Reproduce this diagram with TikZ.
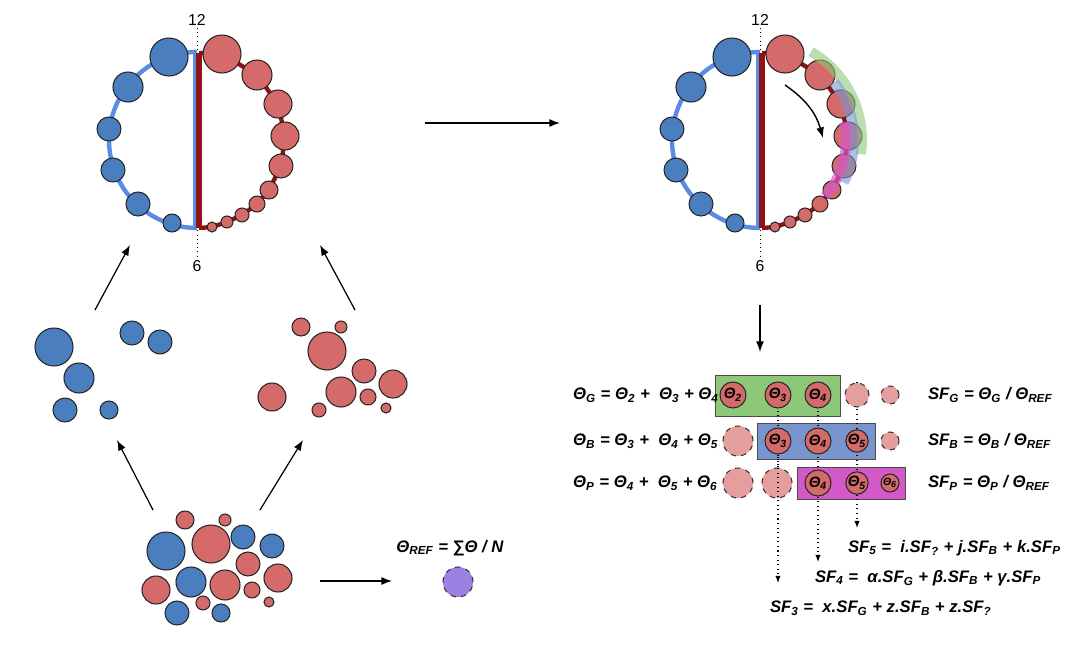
\documentclass[tikz,border=0pt]{standalone}
\usepackage{fontspec}
\setmainfont{Liberation Sans}
\usetikzlibrary{arrows.meta}
\definecolor{cblue}{RGB}{74,126,190}
\definecolor{cred}{RGB}{212,106,106}
\definecolor{cpink}{RGB}{228,158,158}
\definecolor{cline}{RGB}{90,140,230}
\definecolor{cdark}{RGB}{140,20,20}
\definecolor{cgreen}{RGB}{140,200,120}
\definecolor{cband}{RGB}{120,150,205}
\definecolor{cmag}{RGB}{210,90,200}
\newcommand{\Tsub}[1]{\textit{Θ}\textsubscript{\textit{#1}}}
\newcommand{\SFsub}[1]{\textit{SF}\textsubscript{\textit{#1}}}
\tikzset{
  bl/.style={fill=cblue, draw=black!85, line width=0.6pt},
  rd/.style={fill=cred, draw=black!85, line width=0.6pt},
  ghost/.style={fill=cpink, draw=black!80, dashed, line width=0.6pt},
  arr/.style={-{Latex[length=6pt]}, line width=0.7pt},
  dotarr/.style={-{Latex[length=4pt]}, dotted, line width=0.6pt},
  eq/.style={font=\fontsize{9.5}{11}\selectfont\bfseries\itshape, inner sep=1pt},
  cell/.style={circle, draw=black!85, fill=cred, line width=0.6pt, inner sep=0pt,
    font=\fontsize{8.5}{9}\selectfont\bfseries\itshape},
}
% one ring: blue and red chains closed by the 12-6 axis
\newcommand{\ringbody}{
  \draw[dotted] (197,28) -- (197,258);
  \node[font=\small] (top) at (197,20) {12};
  \node[font=\small] (bot) at (197,266) {6};
  \draw[cline, line width=2.5pt] (197,52) arc[start angle=90, end angle=270, radius=1.76cm];
  \draw[cline, line width=2pt] (195,52) -- (195,228);
  \draw[cdark, line width=3pt] (199,53) -- (199,228);
  \draw[cdark, line width=2.5pt] (199,53) -- (222,54) -- (257,75) -- (278,104) -- (285,136)
    -- (281,166) -- (269,190) -- (257,204) -- (242,215) -- (227,222) -- (212,227) -- (199,228);
  \foreach \x/\y/\r in {169/57/19, 128/87/15, 109/129/12, 113/170/12, 138/204/12, 172/223/9}
    \filldraw[bl] (\x,\y) circle (\r*0.02cm);
  \foreach \x/\y/\r in {222/54/19, 257/75/15, 278/104/14, 285/136/14, 281/166/12, 269/190/9,
      257/204/8, 242/215/7, 227/222/6, 212/227/5}
    \filldraw[rd] (\x,\y) circle (\r*0.02cm);
}
\begin{document}
\begin{tikzpicture}[x=0.02cm, y=-0.02cm]
\useasboundingbox (0,0) rectangle (1080,650);

% rings
\begin{scope}
  \ringbody
\end{scope}
\begin{scope}[shift={(563,0)}]
  \ringbody
  \draw[cgreen, opacity=0.6, line width=0.2cm] ([shift={(60:2.04cm)}]197,140) arc[start angle=60, end angle=-8, radius=2.04cm];
  \draw[cband, opacity=0.6, line width=0.2cm] ([shift={(38:1.88cm)}]197,140) arc[start angle=38, end angle=-27, radius=1.88cm];
  \draw[cmag, opacity=0.7, line width=0.2cm] ([shift={(12:1.72cm)}]197,140) arc[start angle=12, end angle=-41, radius=1.72cm];
  \coordinate (sw1) at (222,85);
  \coordinate (sw2) at (260,138);
  \draw[arr, line width=0.8pt] (sw1) to[bend left=20] (sw2);
\end{scope}

% separated clusters
\foreach \x/\y/\r in {54/347/19, 79/378/15, 65/410/12, 109/410/9, 132/333/12, 160/342/12}
  \filldraw[bl] (\x,\y) circle (\r*0.02cm);
\foreach \x/\y/\r in {301/327/9, 341/327/6, 327/351/19, 364/371/12, 393/384/14, 341/392/15,
    368/397/8, 272/397/14, 319/410/7, 386/408/5}
  \filldraw[rd] (\x,\y) circle (\r*0.02cm);

% mixed cluster
\foreach \x/\y/\r in {166/551/19, 243/537/12, 272/546/12, 191/582/15, 177/613/12, 221/613/9}
  \filldraw[bl] (\x,\y) circle (\r*0.02cm);
\foreach \x/\y/\r in {211/544/19, 185/520/9, 225/520/6, 248/564/12, 278/578/14, 225/585/15,
    156/590/14, 252/590/8, 203/603/7, 269/602/5}
  \filldraw[rd] (\x,\y) circle (\r*0.02cm);

% reference
\node[eq] (tref) at (450,548) {\Tsub{REF} = ∑\textit{Θ} / \textit{N}};
\filldraw[fill=violet!45!blue!50, draw=black!80, dashed, line width=0.6pt] (458,582) circle (15*0.02cm);

% flow arrows
\coordinate (m1) at (153,510); \coordinate (m2) at (117,440);
\coordinate (m3) at (260,510); \coordinate (m4) at (303,440);
\coordinate (m5) at (320,581); \coordinate (m6) at (392,581);
\coordinate (c1) at (95,310);  \coordinate (c2) at (130,245);
\coordinate (c3) at (355,310); \coordinate (c4) at (320,245);
\coordinate (h1) at (425,123); \coordinate (h2) at (560,123);
\coordinate (v1) at (760,305); \coordinate (v2) at (760,352);
\foreach \a/\b in {m1/m2, m3/m4, m5/m6, c1/c2, c3/c4, h1/h2, v1/v2}
  \draw[arr] (\a) -- (\b);

% windows
\filldraw[fill=cgreen, draw=black!70] (715,375) rectangle (840,416);
\filldraw[fill=cband, draw=black!70] (757,423) rectangle (875,459);
\filldraw[fill=cmag, draw=black!70] (797,467) rectangle (905,499);

\draw[dotted, line width=0.6pt] (778,388) -- (778,470);
\draw[dotted, line width=0.6pt] (818,388) -- (818,470);
\draw[dotted, line width=0.6pt] (857,382) -- (857,470);

\filldraw[ghost] (857,395) circle (12*0.02cm);
\filldraw[ghost] (890,395) circle (9*0.02cm);
\filldraw[ghost] (738,441) circle (15*0.02cm);
\filldraw[ghost] (890,441) circle (9*0.02cm);
\filldraw[ghost] (738,483) circle (15*0.02cm);
\filldraw[ghost] (777,483) circle (15*0.02cm);

\node[cell, minimum size=26*0.02cm] (g2) at (733,395) {Θ\textsubscript{2}};
\node[cell, minimum size=26*0.02cm] (g3) at (778,395) {Θ\textsubscript{3}};
\node[cell, minimum size=26*0.02cm] (g4) at (818,395) {Θ\textsubscript{4}};
\node[cell, minimum size=26*0.02cm] (b3) at (778,441) {Θ\textsubscript{3}};
\node[cell, minimum size=26*0.02cm] (b4) at (818,441) {Θ\textsubscript{4}};
\node[cell, minimum size=22*0.02cm] (b5) at (857,441) {Θ\textsubscript{5}};
\node[cell, minimum size=26*0.02cm] (p4) at (818,483) {Θ\textsubscript{4}};
\node[cell, minimum size=22*0.02cm] (p5) at (857,483) {Θ\textsubscript{5}};
\node[cell, minimum size=18*0.02cm, font=\fontsize{6}{7}\selectfont\bfseries\itshape] (p6) at (890,483) {Θ\textsubscript{6}};

% equations
\node[eq, anchor=west] (eg) at (571,395) {\Tsub{G} = \Tsub{2} + \ \Tsub{3} + \Tsub{4}};
\node[eq, anchor=west] (eb) at (571,441) {\Tsub{B} = \Tsub{3} + \ \Tsub{4} + \Tsub{5}};
\node[eq, anchor=west] (ep) at (571,483) {\Tsub{P} = \Tsub{4} + \ \Tsub{5} + \Tsub{6}};
\node[eq, anchor=west] (sg) at (926,395) {\SFsub{G} = \Tsub{G} / \Tsub{REF}};
\node[eq, anchor=west] (sb) at (926,441) {\SFsub{B} = \Tsub{B} / \Tsub{REF}};
\node[eq, anchor=west] (sp) at (926,483) {\SFsub{P} = \Tsub{P} / \Tsub{REF}};

\node[eq, anchor=west] (sf5) at (846,548) {\SFsub{5} = \ i.\SFsub{?} + j.\SFsub{B} + k.\SFsub{P}};
\node[eq, anchor=west] (sf4) at (813,578) {\SFsub{4} = \ α.\SFsub{G} + β.\SFsub{B} + γ.\SFsub{P}};
\node[eq, anchor=west] (sf3) at (768,608) {\SFsub{3} = \ x.\SFsub{G} + z.\SFsub{B} + z.\SFsub{?}};

\draw[dotarr] (b3.south) -- (778,583);
\draw[dotarr] (p4.south) -- (818,562);
\draw[dotarr] (p5.south) -- (857,528);
\end{tikzpicture}
\end{document}
